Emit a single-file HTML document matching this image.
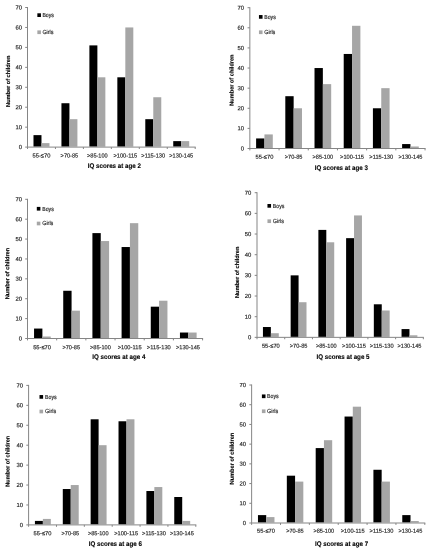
<!DOCTYPE html>
<html lang="en"><head><meta charset="utf-8"><title>IQ scores by age</title>
<style>html,body{margin:0;padding:0;background:#fff}svg{display:block}text{font-family:"Liberation Sans",sans-serif;fill:#1c1c1c;stroke:#1c1c1c;stroke-width:0.14}.b{font-weight:bold;fill:#000;stroke:#000;stroke-width:0.12}</style></head><body>
<svg width="428" height="550" viewBox="0 0 428 550">
<rect width="428" height="550" fill="#fff"/>
<g>
<rect x="33.49" y="135.13" width="7.99" height="11.52" fill="#000"/>
<rect x="41.48" y="143.11" width="7.99" height="3.54" fill="#a6a6a6"/>
<rect x="61.44" y="103.23" width="7.99" height="43.42" fill="#000"/>
<rect x="69.42" y="119.18" width="7.99" height="27.47" fill="#a6a6a6"/>
<rect x="89.39" y="45.39" width="7.99" height="101.26" fill="#000"/>
<rect x="97.37" y="77.30" width="7.99" height="69.35" fill="#a6a6a6"/>
<rect x="117.34" y="77.30" width="7.99" height="69.35" fill="#000"/>
<rect x="125.32" y="27.44" width="7.99" height="119.21" fill="#a6a6a6"/>
<rect x="145.29" y="119.18" width="7.99" height="27.47" fill="#000"/>
<rect x="153.28" y="97.24" width="7.99" height="49.41" fill="#a6a6a6"/>
<rect x="173.24" y="141.12" width="7.99" height="5.53" fill="#000"/>
<rect x="181.22" y="141.12" width="7.99" height="5.53" fill="#a6a6a6"/>
<path d="M27.50 7.00V149.00M25.20 147.10H195.70" fill="none" stroke="#858585" stroke-width="1"/>
<path d="M27.50 127.16h-2.3M27.50 107.21h-2.3M27.50 87.27h-2.3M27.50 67.33h-2.3M27.50 47.39h-2.3M27.50 27.44h-2.3M27.50 7.50h-2.3M55.45 147.10v1.9M83.40 147.10v1.9M111.35 147.10v1.9M139.30 147.10v1.9M167.25 147.10v1.9M195.20 147.10v1.9" fill="none" stroke="#858585" stroke-width="1"/>
<text x="22.05" y="149.10" transform="rotate(0.03 22.05 149.10)" font-size="5.90" text-anchor="end" textLength="3.30" lengthAdjust="spacingAndGlyphs">0</text>
<text x="22.05" y="129.16" transform="rotate(0.03 22.05 129.16)" font-size="5.90" text-anchor="end" textLength="6.60" lengthAdjust="spacingAndGlyphs">10</text>
<text x="22.05" y="109.21" transform="rotate(0.03 22.05 109.21)" font-size="5.90" text-anchor="end" textLength="6.60" lengthAdjust="spacingAndGlyphs">20</text>
<text x="22.05" y="89.27" transform="rotate(0.03 22.05 89.27)" font-size="5.90" text-anchor="end" textLength="6.60" lengthAdjust="spacingAndGlyphs">30</text>
<text x="22.05" y="69.33" transform="rotate(0.03 22.05 69.33)" font-size="5.90" text-anchor="end" textLength="6.60" lengthAdjust="spacingAndGlyphs">40</text>
<text x="22.05" y="49.39" transform="rotate(0.03 22.05 49.39)" font-size="5.90" text-anchor="end" textLength="6.60" lengthAdjust="spacingAndGlyphs">50</text>
<text x="22.05" y="29.44" transform="rotate(0.03 22.05 29.44)" font-size="5.90" text-anchor="end" textLength="6.60" lengthAdjust="spacingAndGlyphs">60</text>
<text x="22.05" y="9.50" transform="rotate(0.03 22.05 9.50)" font-size="5.90" text-anchor="end" textLength="6.60" lengthAdjust="spacingAndGlyphs">70</text>
<text x="41.48" y="157.45" transform="rotate(0.03 41.48 157.45)" font-size="5.90" text-anchor="middle" textLength="17.90" lengthAdjust="spacingAndGlyphs">55-≤70</text>
<text x="69.42" y="157.45" transform="rotate(0.03 69.42 157.45)" font-size="5.90" text-anchor="middle" textLength="17.60" lengthAdjust="spacingAndGlyphs">&gt;70-85</text>
<text x="97.38" y="157.45" transform="rotate(0.03 97.38 157.45)" font-size="5.90" text-anchor="middle" textLength="20.70" lengthAdjust="spacingAndGlyphs">&gt;85-100</text>
<text x="125.33" y="157.45" transform="rotate(0.03 125.33 157.45)" font-size="5.90" text-anchor="middle" textLength="23.90" lengthAdjust="spacingAndGlyphs">&gt;100-115</text>
<text x="153.27" y="157.45" transform="rotate(0.03 153.27 157.45)" font-size="5.90" text-anchor="middle" textLength="23.90" lengthAdjust="spacingAndGlyphs">&gt;115-130</text>
<text x="181.22" y="157.45" transform="rotate(0.03 181.22 157.45)" font-size="5.90" text-anchor="middle" textLength="23.90" lengthAdjust="spacingAndGlyphs">&gt;130-145</text>
<text class="b" x="114.35" y="167.70" transform="rotate(0.03 114.35 167.70)" font-size="6.70" text-anchor="middle" textLength="53.00" lengthAdjust="spacingAndGlyphs">IQ scores at age 2</text>
<text class="b" transform="translate(9.90 81.30) rotate(-89.97)" font-size="5.70" text-anchor="middle" textLength="51.20" lengthAdjust="spacingAndGlyphs">Number of children</text>
<rect x="37.35" y="13.30" width="3.60" height="3.70" fill="#000"/>
<rect x="37.35" y="30.40" width="3.60" height="3.70" fill="#a6a6a6"/>
<text x="42.40" y="17.05" transform="rotate(0.03 42.40 17.05)" font-size="5.90" textLength="11.60" lengthAdjust="spacingAndGlyphs">Boys</text>
<text x="42.40" y="34.15" transform="rotate(0.03 42.40 34.15)" font-size="5.90" textLength="11.10" lengthAdjust="spacingAndGlyphs">Girls</text>
</g>
<g>
<rect x="256.11" y="138.44" width="8.34" height="9.61" fill="#000"/>
<rect x="264.45" y="134.42" width="8.34" height="13.63" fill="#a6a6a6"/>
<rect x="285.31" y="96.20" width="8.34" height="51.85" fill="#000"/>
<rect x="293.65" y="108.27" width="8.34" height="39.78" fill="#a6a6a6"/>
<rect x="314.51" y="68.04" width="8.34" height="80.01" fill="#000"/>
<rect x="322.85" y="84.13" width="8.34" height="63.92" fill="#a6a6a6"/>
<rect x="343.71" y="53.96" width="8.34" height="94.09" fill="#000"/>
<rect x="352.05" y="25.80" width="8.34" height="122.25" fill="#a6a6a6"/>
<rect x="372.91" y="108.27" width="8.34" height="39.78" fill="#000"/>
<rect x="381.25" y="88.16" width="8.34" height="59.89" fill="#a6a6a6"/>
<rect x="402.11" y="144.07" width="8.34" height="3.98" fill="#000"/>
<rect x="410.45" y="146.49" width="8.34" height="1.56" fill="#a6a6a6"/>
<path d="M249.85 7.20V150.40M247.55 148.50H425.55" fill="none" stroke="#858585" stroke-width="1"/>
<path d="M249.85 128.39h-2.3M249.85 108.27h-2.3M249.85 88.16h-2.3M249.85 68.04h-2.3M249.85 47.93h-2.3M249.85 27.81h-2.3M249.85 7.70h-2.3M279.05 148.50v1.9M308.25 148.50v1.9M337.45 148.50v1.9M366.65 148.50v1.9M395.85 148.50v1.9M425.05 148.50v1.9" fill="none" stroke="#858585" stroke-width="1"/>
<text x="244.05" y="150.50" transform="rotate(0.03 244.05 150.50)" font-size="5.90" text-anchor="end" textLength="3.30" lengthAdjust="spacingAndGlyphs">0</text>
<text x="244.05" y="130.39" transform="rotate(0.03 244.05 130.39)" font-size="5.90" text-anchor="end" textLength="6.60" lengthAdjust="spacingAndGlyphs">10</text>
<text x="244.05" y="110.27" transform="rotate(0.03 244.05 110.27)" font-size="5.90" text-anchor="end" textLength="6.60" lengthAdjust="spacingAndGlyphs">20</text>
<text x="244.05" y="90.16" transform="rotate(0.03 244.05 90.16)" font-size="5.90" text-anchor="end" textLength="6.60" lengthAdjust="spacingAndGlyphs">30</text>
<text x="244.05" y="70.04" transform="rotate(0.03 244.05 70.04)" font-size="5.90" text-anchor="end" textLength="6.60" lengthAdjust="spacingAndGlyphs">40</text>
<text x="244.05" y="49.93" transform="rotate(0.03 244.05 49.93)" font-size="5.90" text-anchor="end" textLength="6.60" lengthAdjust="spacingAndGlyphs">50</text>
<text x="244.05" y="29.81" transform="rotate(0.03 244.05 29.81)" font-size="5.90" text-anchor="end" textLength="6.60" lengthAdjust="spacingAndGlyphs">60</text>
<text x="244.05" y="9.70" transform="rotate(0.03 244.05 9.70)" font-size="5.90" text-anchor="end" textLength="6.60" lengthAdjust="spacingAndGlyphs">70</text>
<text x="264.45" y="158.65" transform="rotate(0.03 264.45 158.65)" font-size="5.90" text-anchor="middle" textLength="17.90" lengthAdjust="spacingAndGlyphs">55-≤70</text>
<text x="293.65" y="158.65" transform="rotate(0.03 293.65 158.65)" font-size="5.90" text-anchor="middle" textLength="17.60" lengthAdjust="spacingAndGlyphs">&gt;70-85</text>
<text x="322.85" y="158.65" transform="rotate(0.03 322.85 158.65)" font-size="5.90" text-anchor="middle" textLength="20.70" lengthAdjust="spacingAndGlyphs">&gt;85-100</text>
<text x="352.05" y="158.65" transform="rotate(0.03 352.05 158.65)" font-size="5.90" text-anchor="middle" textLength="23.90" lengthAdjust="spacingAndGlyphs">&gt;100-115</text>
<text x="381.25" y="158.65" transform="rotate(0.03 381.25 158.65)" font-size="5.90" text-anchor="middle" textLength="23.90" lengthAdjust="spacingAndGlyphs">&gt;115-130</text>
<text x="410.45" y="158.65" transform="rotate(0.03 410.45 158.65)" font-size="5.90" text-anchor="middle" textLength="23.90" lengthAdjust="spacingAndGlyphs">&gt;130-145</text>
<text class="b" x="341.35" y="169.70" transform="rotate(0.03 341.35 169.70)" font-size="6.70" text-anchor="middle" textLength="53.00" lengthAdjust="spacingAndGlyphs">IQ scores at age 3</text>
<text class="b" transform="translate(233.40 80.10) rotate(-89.97)" font-size="5.70" text-anchor="middle" textLength="51.20" lengthAdjust="spacingAndGlyphs">Number of children</text>
<rect x="258.95" y="15.05" width="3.60" height="3.70" fill="#000"/>
<rect x="258.95" y="30.40" width="3.60" height="3.70" fill="#a6a6a6"/>
<text x="264.20" y="18.80" transform="rotate(0.03 264.20 18.80)" font-size="5.90" textLength="11.60" lengthAdjust="spacingAndGlyphs">Boys</text>
<text x="264.20" y="34.15" transform="rotate(0.03 264.20 34.15)" font-size="5.90" textLength="11.10" lengthAdjust="spacingAndGlyphs">Girls</text>
</g>
<g>
<rect x="34.05" y="328.56" width="8.34" height="9.49" fill="#000"/>
<rect x="42.39" y="336.51" width="8.34" height="1.54" fill="#a6a6a6"/>
<rect x="63.23" y="290.77" width="8.34" height="47.28" fill="#000"/>
<rect x="71.57" y="310.66" width="8.34" height="27.39" fill="#a6a6a6"/>
<rect x="92.41" y="233.11" width="8.34" height="104.94" fill="#000"/>
<rect x="100.75" y="241.06" width="8.34" height="96.99" fill="#a6a6a6"/>
<rect x="121.59" y="247.03" width="8.34" height="91.02" fill="#000"/>
<rect x="129.93" y="223.16" width="8.34" height="114.89" fill="#a6a6a6"/>
<rect x="150.77" y="306.68" width="8.34" height="31.37" fill="#000"/>
<rect x="159.11" y="300.72" width="8.34" height="37.33" fill="#a6a6a6"/>
<rect x="179.95" y="332.53" width="8.34" height="5.52" fill="#000"/>
<rect x="188.29" y="332.53" width="8.34" height="5.52" fill="#a6a6a6"/>
<path d="M27.50 198.80V340.40M25.20 338.50H203.08" fill="none" stroke="#858585" stroke-width="1"/>
<path d="M27.50 318.61h-2.3M27.50 298.73h-2.3M27.50 278.84h-2.3M27.50 258.96h-2.3M27.50 239.07h-2.3M27.50 219.19h-2.3M27.50 199.30h-2.3M56.68 338.50v1.9M85.86 338.50v1.9M115.04 338.50v1.9M144.22 338.50v1.9M173.40 338.50v1.9M202.58 338.50v1.9" fill="none" stroke="#858585" stroke-width="1"/>
<text x="22.05" y="340.50" transform="rotate(0.03 22.05 340.50)" font-size="5.90" text-anchor="end" textLength="3.30" lengthAdjust="spacingAndGlyphs">0</text>
<text x="22.05" y="320.61" transform="rotate(0.03 22.05 320.61)" font-size="5.90" text-anchor="end" textLength="6.60" lengthAdjust="spacingAndGlyphs">10</text>
<text x="22.05" y="300.73" transform="rotate(0.03 22.05 300.73)" font-size="5.90" text-anchor="end" textLength="6.60" lengthAdjust="spacingAndGlyphs">20</text>
<text x="22.05" y="280.84" transform="rotate(0.03 22.05 280.84)" font-size="5.90" text-anchor="end" textLength="6.60" lengthAdjust="spacingAndGlyphs">30</text>
<text x="22.05" y="260.96" transform="rotate(0.03 22.05 260.96)" font-size="5.90" text-anchor="end" textLength="6.60" lengthAdjust="spacingAndGlyphs">40</text>
<text x="22.05" y="241.07" transform="rotate(0.03 22.05 241.07)" font-size="5.90" text-anchor="end" textLength="6.60" lengthAdjust="spacingAndGlyphs">50</text>
<text x="22.05" y="221.19" transform="rotate(0.03 22.05 221.19)" font-size="5.90" text-anchor="end" textLength="6.60" lengthAdjust="spacingAndGlyphs">60</text>
<text x="22.05" y="201.30" transform="rotate(0.03 22.05 201.30)" font-size="5.90" text-anchor="end" textLength="6.60" lengthAdjust="spacingAndGlyphs">70</text>
<text x="42.09" y="349.15" transform="rotate(0.03 42.09 349.15)" font-size="5.90" text-anchor="middle" textLength="17.90" lengthAdjust="spacingAndGlyphs">55-≤70</text>
<text x="71.27" y="349.15" transform="rotate(0.03 71.27 349.15)" font-size="5.90" text-anchor="middle" textLength="17.60" lengthAdjust="spacingAndGlyphs">&gt;70-85</text>
<text x="100.45" y="349.15" transform="rotate(0.03 100.45 349.15)" font-size="5.90" text-anchor="middle" textLength="20.70" lengthAdjust="spacingAndGlyphs">&gt;85-100</text>
<text x="129.63" y="349.15" transform="rotate(0.03 129.63 349.15)" font-size="5.90" text-anchor="middle" textLength="23.90" lengthAdjust="spacingAndGlyphs">&gt;100-115</text>
<text x="158.81" y="349.15" transform="rotate(0.03 158.81 349.15)" font-size="5.90" text-anchor="middle" textLength="23.90" lengthAdjust="spacingAndGlyphs">&gt;115-130</text>
<text x="187.99" y="349.15" transform="rotate(0.03 187.99 349.15)" font-size="5.90" text-anchor="middle" textLength="23.90" lengthAdjust="spacingAndGlyphs">&gt;130-145</text>
<text class="b" x="118.85" y="359.30" transform="rotate(0.03 118.85 359.30)" font-size="6.70" text-anchor="middle" textLength="53.00" lengthAdjust="spacingAndGlyphs">IQ scores at age 4</text>
<text class="b" transform="translate(9.20 273.60) rotate(-89.97)" font-size="5.70" text-anchor="middle" textLength="51.50" lengthAdjust="spacingAndGlyphs">Number of children</text>
<rect x="36.80" y="206.90" width="3.60" height="3.70" fill="#000"/>
<rect x="36.80" y="221.65" width="3.60" height="3.70" fill="#a6a6a6"/>
<text x="42.20" y="210.65" transform="rotate(0.03 42.20 210.65)" font-size="5.90" textLength="11.60" lengthAdjust="spacingAndGlyphs">Boys</text>
<text x="42.20" y="225.40" transform="rotate(0.03 42.20 225.40)" font-size="5.90" textLength="11.10" lengthAdjust="spacingAndGlyphs">Girls</text>
</g>
<g>
<rect x="262.94" y="327.02" width="7.92" height="9.88" fill="#000"/>
<rect x="270.86" y="333.22" width="7.92" height="3.68" fill="#a6a6a6"/>
<rect x="290.66" y="275.36" width="7.92" height="61.54" fill="#000"/>
<rect x="298.58" y="302.22" width="7.92" height="34.68" fill="#a6a6a6"/>
<rect x="318.38" y="229.90" width="7.92" height="107.00" fill="#000"/>
<rect x="326.30" y="242.29" width="7.92" height="94.61" fill="#a6a6a6"/>
<rect x="346.11" y="238.16" width="7.92" height="98.74" fill="#000"/>
<rect x="354.03" y="215.43" width="7.92" height="121.47" fill="#a6a6a6"/>
<rect x="373.83" y="304.29" width="7.92" height="32.61" fill="#000"/>
<rect x="381.75" y="310.49" width="7.92" height="26.41" fill="#a6a6a6"/>
<rect x="401.55" y="329.08" width="7.92" height="7.82" fill="#000"/>
<rect x="409.47" y="335.28" width="7.92" height="1.62" fill="#a6a6a6"/>
<path d="M257.00 192.20V339.25M254.70 337.35H423.83" fill="none" stroke="#858585" stroke-width="1"/>
<path d="M257.00 316.69h-2.3M257.00 296.02h-2.3M257.00 275.36h-2.3M257.00 254.69h-2.3M257.00 234.03h-2.3M257.00 213.36h-2.3M257.00 192.70h-2.3M284.72 337.35v1.9M312.44 337.35v1.9M340.16 337.35v1.9M367.89 337.35v1.9M395.61 337.35v1.9M423.33 337.35v1.9" fill="none" stroke="#858585" stroke-width="1"/>
<text x="251.30" y="339.35" transform="rotate(0.03 251.30 339.35)" font-size="5.90" text-anchor="end" textLength="3.30" lengthAdjust="spacingAndGlyphs">0</text>
<text x="251.30" y="318.69" transform="rotate(0.03 251.30 318.69)" font-size="5.90" text-anchor="end" textLength="6.60" lengthAdjust="spacingAndGlyphs">10</text>
<text x="251.30" y="298.02" transform="rotate(0.03 251.30 298.02)" font-size="5.90" text-anchor="end" textLength="6.60" lengthAdjust="spacingAndGlyphs">20</text>
<text x="251.30" y="277.36" transform="rotate(0.03 251.30 277.36)" font-size="5.90" text-anchor="end" textLength="6.60" lengthAdjust="spacingAndGlyphs">30</text>
<text x="251.30" y="256.69" transform="rotate(0.03 251.30 256.69)" font-size="5.90" text-anchor="end" textLength="6.60" lengthAdjust="spacingAndGlyphs">40</text>
<text x="251.30" y="236.03" transform="rotate(0.03 251.30 236.03)" font-size="5.90" text-anchor="end" textLength="6.60" lengthAdjust="spacingAndGlyphs">50</text>
<text x="251.30" y="215.36" transform="rotate(0.03 251.30 215.36)" font-size="5.90" text-anchor="end" textLength="6.60" lengthAdjust="spacingAndGlyphs">60</text>
<text x="251.30" y="194.70" transform="rotate(0.03 251.30 194.70)" font-size="5.90" text-anchor="end" textLength="6.60" lengthAdjust="spacingAndGlyphs">70</text>
<text x="270.86" y="347.85" transform="rotate(0.03 270.86 347.85)" font-size="5.90" text-anchor="middle" textLength="17.90" lengthAdjust="spacingAndGlyphs">55-≤70</text>
<text x="298.58" y="347.85" transform="rotate(0.03 298.58 347.85)" font-size="5.90" text-anchor="middle" textLength="17.60" lengthAdjust="spacingAndGlyphs">&gt;70-85</text>
<text x="326.30" y="347.85" transform="rotate(0.03 326.30 347.85)" font-size="5.90" text-anchor="middle" textLength="20.70" lengthAdjust="spacingAndGlyphs">&gt;85-100</text>
<text x="354.03" y="347.85" transform="rotate(0.03 354.03 347.85)" font-size="5.90" text-anchor="middle" textLength="23.90" lengthAdjust="spacingAndGlyphs">&gt;100-115</text>
<text x="381.75" y="347.85" transform="rotate(0.03 381.75 347.85)" font-size="5.90" text-anchor="middle" textLength="23.90" lengthAdjust="spacingAndGlyphs">&gt;115-130</text>
<text x="409.47" y="347.85" transform="rotate(0.03 409.47 347.85)" font-size="5.90" text-anchor="middle" textLength="23.90" lengthAdjust="spacingAndGlyphs">&gt;130-145</text>
<text class="b" x="343.00" y="358.70" transform="rotate(0.03 343.00 358.70)" font-size="6.70" text-anchor="middle" textLength="53.00" lengthAdjust="spacingAndGlyphs">IQ scores at age 5</text>
<text class="b" transform="translate(239.00 272.35) rotate(-89.97)" font-size="5.70" text-anchor="middle" textLength="51.30" lengthAdjust="spacingAndGlyphs">Number of children</text>
<rect x="267.45" y="204.00" width="3.60" height="3.70" fill="#000"/>
<rect x="267.45" y="219.35" width="3.60" height="3.70" fill="#a6a6a6"/>
<text x="272.80" y="207.75" transform="rotate(0.03 272.80 207.75)" font-size="5.90" textLength="11.60" lengthAdjust="spacingAndGlyphs">Boys</text>
<text x="272.80" y="223.10" transform="rotate(0.03 272.80 223.10)" font-size="5.90" textLength="11.10" lengthAdjust="spacingAndGlyphs">Girls</text>
</g>
<g>
<rect x="34.92" y="520.91" width="7.96" height="3.54" fill="#000"/>
<rect x="42.88" y="518.92" width="7.96" height="5.53" fill="#a6a6a6"/>
<rect x="62.79" y="489.03" width="7.96" height="35.42" fill="#000"/>
<rect x="70.75" y="485.04" width="7.96" height="39.41" fill="#a6a6a6"/>
<rect x="90.65" y="419.28" width="7.96" height="105.17" fill="#000"/>
<rect x="98.62" y="445.19" width="7.96" height="79.26" fill="#a6a6a6"/>
<rect x="118.52" y="421.27" width="7.96" height="103.18" fill="#000"/>
<rect x="126.48" y="419.28" width="7.96" height="105.17" fill="#a6a6a6"/>
<rect x="146.39" y="491.02" width="7.96" height="33.43" fill="#000"/>
<rect x="154.35" y="487.04" width="7.96" height="37.41" fill="#a6a6a6"/>
<rect x="174.25" y="497.00" width="7.96" height="27.45" fill="#000"/>
<rect x="182.22" y="520.91" width="7.96" height="3.54" fill="#a6a6a6"/>
<path d="M28.60 384.90V526.80M26.30 524.90H196.30" fill="none" stroke="#858585" stroke-width="1"/>
<path d="M28.60 504.97h-2.3M28.60 485.04h-2.3M28.60 465.11h-2.3M28.60 445.19h-2.3M28.60 425.26h-2.3M28.60 405.33h-2.3M28.60 385.40h-2.3M56.47 524.90v1.9M84.33 524.90v1.9M112.20 524.90v1.9M140.07 524.90v1.9M167.93 524.90v1.9M195.80 524.90v1.9" fill="none" stroke="#858585" stroke-width="1"/>
<text x="23.05" y="526.90" transform="rotate(0.03 23.05 526.90)" font-size="5.90" text-anchor="end" textLength="3.30" lengthAdjust="spacingAndGlyphs">0</text>
<text x="23.05" y="506.97" transform="rotate(0.03 23.05 506.97)" font-size="5.90" text-anchor="end" textLength="6.60" lengthAdjust="spacingAndGlyphs">10</text>
<text x="23.05" y="487.04" transform="rotate(0.03 23.05 487.04)" font-size="5.90" text-anchor="end" textLength="6.60" lengthAdjust="spacingAndGlyphs">20</text>
<text x="23.05" y="467.11" transform="rotate(0.03 23.05 467.11)" font-size="5.90" text-anchor="end" textLength="6.60" lengthAdjust="spacingAndGlyphs">30</text>
<text x="23.05" y="447.19" transform="rotate(0.03 23.05 447.19)" font-size="5.90" text-anchor="end" textLength="6.60" lengthAdjust="spacingAndGlyphs">40</text>
<text x="23.05" y="427.26" transform="rotate(0.03 23.05 427.26)" font-size="5.90" text-anchor="end" textLength="6.60" lengthAdjust="spacingAndGlyphs">50</text>
<text x="23.05" y="407.33" transform="rotate(0.03 23.05 407.33)" font-size="5.90" text-anchor="end" textLength="6.60" lengthAdjust="spacingAndGlyphs">60</text>
<text x="23.05" y="387.40" transform="rotate(0.03 23.05 387.40)" font-size="5.90" text-anchor="end" textLength="6.60" lengthAdjust="spacingAndGlyphs">70</text>
<text x="42.53" y="535.15" transform="rotate(0.03 42.53 535.15)" font-size="5.90" text-anchor="middle" textLength="17.90" lengthAdjust="spacingAndGlyphs">55-≤70</text>
<text x="70.40" y="535.15" transform="rotate(0.03 70.40 535.15)" font-size="5.90" text-anchor="middle" textLength="17.60" lengthAdjust="spacingAndGlyphs">&gt;70-85</text>
<text x="98.27" y="535.15" transform="rotate(0.03 98.27 535.15)" font-size="5.90" text-anchor="middle" textLength="20.70" lengthAdjust="spacingAndGlyphs">&gt;85-100</text>
<text x="126.13" y="535.15" transform="rotate(0.03 126.13 535.15)" font-size="5.90" text-anchor="middle" textLength="23.90" lengthAdjust="spacingAndGlyphs">&gt;100-115</text>
<text x="154.00" y="535.15" transform="rotate(0.03 154.00 535.15)" font-size="5.90" text-anchor="middle" textLength="23.90" lengthAdjust="spacingAndGlyphs">&gt;115-130</text>
<text x="181.87" y="535.15" transform="rotate(0.03 181.87 535.15)" font-size="5.90" text-anchor="middle" textLength="23.90" lengthAdjust="spacingAndGlyphs">&gt;130-145</text>
<text class="b" x="115.35" y="546.20" transform="rotate(0.03 115.35 546.20)" font-size="6.70" text-anchor="middle" textLength="53.00" lengthAdjust="spacingAndGlyphs">IQ scores at age 6</text>
<text class="b" transform="translate(9.55 461.30) rotate(-89.97)" font-size="5.70" text-anchor="middle" textLength="50.90" lengthAdjust="spacingAndGlyphs">Number of children</text>
<rect x="39.50" y="395.05" width="3.60" height="3.70" fill="#000"/>
<rect x="39.50" y="409.65" width="3.60" height="3.70" fill="#a6a6a6"/>
<text x="45.00" y="398.80" transform="rotate(0.03 45.00 398.80)" font-size="5.90" textLength="11.60" lengthAdjust="spacingAndGlyphs">Boys</text>
<text x="45.00" y="413.40" transform="rotate(0.03 45.00 413.40)" font-size="5.90" textLength="11.10" lengthAdjust="spacingAndGlyphs">Girls</text>
</g>
<g>
<rect x="257.97" y="515.11" width="8.25" height="7.44" fill="#000"/>
<rect x="266.22" y="517.09" width="8.25" height="5.46" fill="#a6a6a6"/>
<rect x="286.83" y="475.69" width="8.25" height="46.86" fill="#000"/>
<rect x="295.08" y="481.60" width="8.25" height="40.95" fill="#a6a6a6"/>
<rect x="315.69" y="448.09" width="8.25" height="74.46" fill="#000"/>
<rect x="323.94" y="440.20" width="8.25" height="82.35" fill="#a6a6a6"/>
<rect x="344.55" y="416.54" width="8.25" height="106.01" fill="#000"/>
<rect x="352.80" y="406.69" width="8.25" height="115.86" fill="#a6a6a6"/>
<rect x="373.41" y="469.77" width="8.25" height="52.78" fill="#000"/>
<rect x="381.66" y="481.60" width="8.25" height="40.95" fill="#a6a6a6"/>
<rect x="402.27" y="515.11" width="8.25" height="7.44" fill="#000"/>
<rect x="410.52" y="521.03" width="8.25" height="1.52" fill="#a6a6a6"/>
<path d="M251.64 384.50V524.90M249.34 523.00H425.30" fill="none" stroke="#858585" stroke-width="1"/>
<path d="M251.64 503.29h-2.3M251.64 483.57h-2.3M251.64 463.86h-2.3M251.64 444.14h-2.3M251.64 424.43h-2.3M251.64 404.71h-2.3M251.64 385.00h-2.3M280.50 523.00v1.9M309.36 523.00v1.9M338.22 523.00v1.9M367.08 523.00v1.9M395.94 523.00v1.9M424.80 523.00v1.9" fill="none" stroke="#858585" stroke-width="1"/>
<text x="246.05" y="525.00" transform="rotate(0.03 246.05 525.00)" font-size="5.90" text-anchor="end" textLength="3.30" lengthAdjust="spacingAndGlyphs">0</text>
<text x="246.05" y="505.29" transform="rotate(0.03 246.05 505.29)" font-size="5.90" text-anchor="end" textLength="6.60" lengthAdjust="spacingAndGlyphs">10</text>
<text x="246.05" y="485.57" transform="rotate(0.03 246.05 485.57)" font-size="5.90" text-anchor="end" textLength="6.60" lengthAdjust="spacingAndGlyphs">20</text>
<text x="246.05" y="465.86" transform="rotate(0.03 246.05 465.86)" font-size="5.90" text-anchor="end" textLength="6.60" lengthAdjust="spacingAndGlyphs">30</text>
<text x="246.05" y="446.14" transform="rotate(0.03 246.05 446.14)" font-size="5.90" text-anchor="end" textLength="6.60" lengthAdjust="spacingAndGlyphs">40</text>
<text x="246.05" y="426.43" transform="rotate(0.03 246.05 426.43)" font-size="5.90" text-anchor="end" textLength="6.60" lengthAdjust="spacingAndGlyphs">50</text>
<text x="246.05" y="406.71" transform="rotate(0.03 246.05 406.71)" font-size="5.90" text-anchor="end" textLength="6.60" lengthAdjust="spacingAndGlyphs">60</text>
<text x="246.05" y="387.00" transform="rotate(0.03 246.05 387.00)" font-size="5.90" text-anchor="end" textLength="6.60" lengthAdjust="spacingAndGlyphs">70</text>
<text x="266.07" y="532.75" transform="rotate(0.03 266.07 532.75)" font-size="5.90" text-anchor="middle" textLength="17.90" lengthAdjust="spacingAndGlyphs">55-≤70</text>
<text x="294.93" y="532.75" transform="rotate(0.03 294.93 532.75)" font-size="5.90" text-anchor="middle" textLength="17.60" lengthAdjust="spacingAndGlyphs">&gt;70-85</text>
<text x="323.79" y="532.75" transform="rotate(0.03 323.79 532.75)" font-size="5.90" text-anchor="middle" textLength="20.70" lengthAdjust="spacingAndGlyphs">&gt;85-100</text>
<text x="352.65" y="532.75" transform="rotate(0.03 352.65 532.75)" font-size="5.90" text-anchor="middle" textLength="23.90" lengthAdjust="spacingAndGlyphs">&gt;100-115</text>
<text x="381.51" y="532.75" transform="rotate(0.03 381.51 532.75)" font-size="5.90" text-anchor="middle" textLength="23.90" lengthAdjust="spacingAndGlyphs">&gt;115-130</text>
<text x="410.37" y="532.75" transform="rotate(0.03 410.37 532.75)" font-size="5.90" text-anchor="middle" textLength="23.90" lengthAdjust="spacingAndGlyphs">&gt;130-145</text>
<text class="b" x="341.60" y="546.00" transform="rotate(0.03 341.60 546.00)" font-size="6.70" text-anchor="middle" textLength="53.00" lengthAdjust="spacingAndGlyphs">IQ scores at age 7</text>
<text class="b" transform="translate(233.75 458.60) rotate(-89.97)" font-size="5.70" text-anchor="middle" textLength="51.60" lengthAdjust="spacingAndGlyphs">Number of children</text>
<rect x="261.90" y="394.45" width="3.60" height="3.70" fill="#000"/>
<rect x="261.90" y="409.40" width="3.60" height="3.70" fill="#a6a6a6"/>
<text x="267.00" y="398.20" transform="rotate(0.03 267.00 398.20)" font-size="5.90" textLength="11.60" lengthAdjust="spacingAndGlyphs">Boys</text>
<text x="267.00" y="413.15" transform="rotate(0.03 267.00 413.15)" font-size="5.90" textLength="11.10" lengthAdjust="spacingAndGlyphs">Girls</text>
</g>
</svg></body></html>
